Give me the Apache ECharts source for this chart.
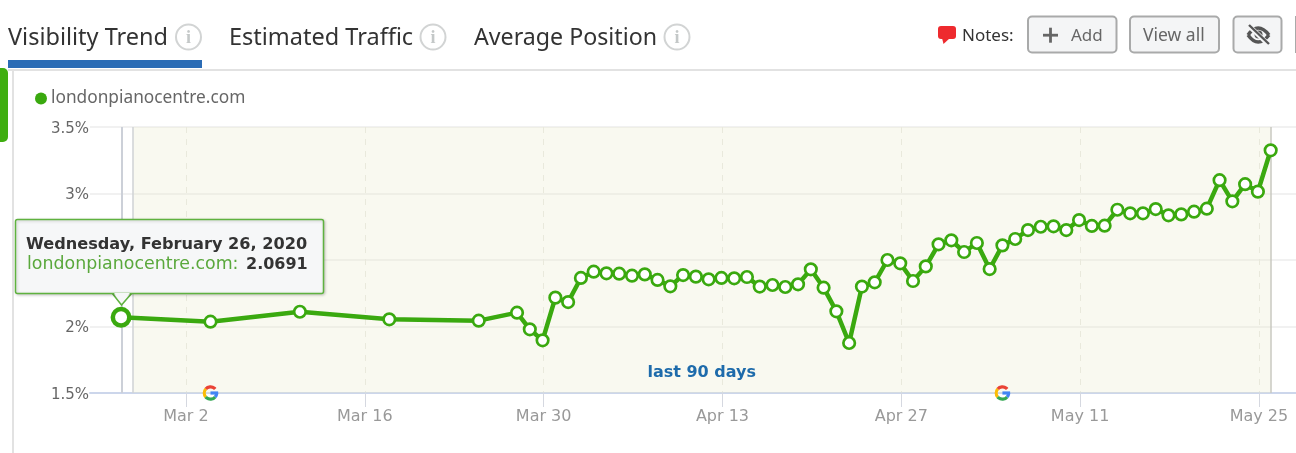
<!DOCTYPE html>
<html><head><meta charset="utf-8">
<style>html,body{margin:0;padding:0;background:#fff}#c{width:1296px;height:453px}</style>
<script src="https://cdn.jsdelivr.net/npm/echarts@6/dist/echarts.min.js"></script>
</head><body><div id="c"></div>
<script>
const seriesName = 'londonpianocentre.com';
const sparseDates = ['2020-02-26','2020-03-04','2020-03-11','2020-03-18','2020-03-25','2020-03-28','2020-03-29'];
const sparseValues = [2.0691,2.036,2.111,2.054,2.044,2.104,1.979];
const dailyStart = '2020-03-30';
const dailyValues = [1.896,2.217,2.184,2.365,2.412,2.400,2.397,2.382,2.392,2.350,2.302,2.387,2.375,2.355,2.365,2.362,2.372,2.300,2.312,2.297,2.317,2.430,2.292,2.114,1.876,2.300,2.332,2.500,2.475,2.342,2.452,2.618,2.648,2.560,2.628,2.432,2.610,2.658,2.725,2.750,2.753,2.725,2.800,2.756,2.758,2.878,2.851,2.851,2.883,2.836,2.843,2.863,2.886,3.100,2.941,3.070,3.014,3.325];
const tickDates = ['2020-03-02','2020-03-16','2020-03-30','2020-04-13','2020-04-27','2020-05-11','2020-05-25'];
const tickLabels = ['Mar 2','Mar 16','Mar 30','Apr 13','Apr 27','May 11','May 25'];
const yTicks = {min:1.5,max:3.5,interval:0.5};
const bandStart = '2020-02-27';
const bandEnd = '2020-05-26';
const bandLabel = 'last 90 days';
const hoverDate = '2020-02-26';
const googleUpdateDates = ['2020-03-04','2020-05-05'];

const DAY = 864e5, HOUR = 36e5;
const GREEN = '#3aa90f';
const ms = s => Date.parse(s + 'T00:00:00Z');
const tickShift = 2 * HOUR;
const points = sparseDates.map((d,i)=>[ms(d),sparseValues[i]])
  .concat(dailyValues.map((v,i)=>[ms(dailyStart)+i*DAY,v]));
const tickValues = tickDates.map(d=>ms(d)+tickShift);
const labelOf = {}; tickValues.forEach((t,i)=>labelOf[t]=tickLabels[i]);

const chart = echarts.init(document.getElementById('c'),null,{renderer:'canvas'});
const SANS = '"Noto Sans"', DJ = '"DejaVu Sans"';

function text(t,x,y,font,fill,align){return {type:'text',z:50,style:{text:t,x,y,font,fill,textAlign:align||'left',textVerticalAlign:'middle'}};}
function rect(x,y,w,h,fill,r,stroke,lw,extra){return Object.assign({type:'rect',z:50,shape:{x,y,width:w,height:h,r:r||0},style:{fill,stroke:stroke||null,lineWidth:lw||0}},extra||{});}
function line(x1,y1,x2,y2,c,lw){return {type:'line',z:50,shape:{x1,y1,x2,y2},style:{stroke:c,lineWidth:lw}};}
function curve(x1,y1,cpx1,cpy1,x2,y2,c,lw){return {type:'bezierCurve',z:50,shape:{x1,y1,x2,y2,cpx1,cpy1},style:{stroke:c,lineWidth:lw,fill:null}};}
function info(cx,cy){return [
  {type:'circle',z:50,shape:{cx,cy,r:12.5},style:{fill:'#fff',stroke:'#d2d4d4',lineWidth:2}},
  text('i',cx,cy+1,'bold 18px "Liberation Serif"','#c4c8c8','center')];}
function gLogo(cx,cy){const r=6.2,lw=3.2,a=Math.PI/180;
  const arc=(s,e,c)=>({type:'arc',z:50,shape:{cx,cy,r,startAngle:s*a,endAngle:e*a},style:{stroke:c,lineWidth:lw,fill:null}});
  return [arc(-140,-40,'#ea4335'),arc(140,220,'#fbbc05'),arc(40,140,'#34a853'),arc(0,40,'#4285f4'),
    rect(cx,cy-1.6,r+1.5,3.2,'#4285f4')];}

const graphics = [
  text('Visibility Trend',8,38,'23.5px '+SANS,'#333'),
  text('Estimated Traffic',229,38,'23.5px '+SANS,'#333'),
  text('Average Position',474,38,'23.2px '+SANS,'#333'),
  ...info(188.5,37),...info(433,37),...info(677,37),
  rect(8,69,1288,2,'#e2e2e2'),
  rect(8,60,194,8,'#2b6cb5'),
  rect(12,69,2,384,'#e2e2e2'),
  rect(0,68,8,74,'#3fae10',[0,5,5,0]),
  rect(938,26,18,13,'#ee2a2e',3),
  {type:'polygon',z:50,shape:{points:[[942,38],[950,38],[943.5,44]]},style:{fill:'#ee2a2e'}},
  text('Notes:',962,36,'17px '+SANS,'#333'),
  rect(1028,16.5,88.5,36,'#f4f5f6',4,'#a9aaaa',2),
  rect(1043,33.8,15,2.8,'#666'),rect(1049.1,27.7,2.8,15,'#666'),
  text('Add',1071,36,'17px '+SANS,'#666'),
  rect(1130,16.5,89,36,'#f4f5f6',4,'#a9aaaa',2),
  text('View all',1143,36,'17.5px '+SANS,'#666'),
  rect(1233.5,16.5,48,36,'#f4f5f6',4,'#a9aaaa',2),
  curve(1248,35,1258,21,1269,35,'#555',3.5),
  curve(1248,35,1258,49,1269,35,'#555',3.5),
  {type:'circle',z:50,shape:{cx:1258.5,cy:34.5,r:4},style:{fill:'#555'}},
  line(1248,25,1268,44,'#f4f5f6',5),line(1249,25,1269,44,'#555',2.4),
  rect(1295,16,1,37,'#a9aaaa'),
  {type:'polygon',z:60,shape:{points:[[112,293],[132,293],[121.5,305]]},style:{fill:'#f6f7f8',stroke:'#5fb23f',lineWidth:1.5}},
  rect(15.5,219.5,308,74,'#f6f7f8',2,'#5fb23f',1.5,{z:60,style:{fill:'#f6f7f8',stroke:'#5fb23f',lineWidth:1.5,shadowBlur:3,shadowColor:'rgba(0,0,0,0.2)',shadowOffsetX:1,shadowOffsetY:1}}),
  {type:'polygon',z:61,shape:{points:[[114,293],[130,293],[121.5,303]]},style:{fill:'#f6f7f8'}},
  Object.assign(text('Wednesday, February 26, 2020',26,244.5,'bold 16.15px '+DJ,'#333'),{z:62}),
  Object.assign(text(seriesName+':',27,264.5,'17.4px '+DJ,'#5aa83c'),{z:62}),
  Object.assign(text(String(sparseValues[0]),246,264.5,'bold 16px '+DJ,'#333'),{z:62})
];

chart.setOption({
  animation:false,
  legend:{show:true,left:35,top:90,icon:'circle',itemWidth:12,itemHeight:12,itemGap:6,padding:0,
    itemStyle:{color:GREEN,borderWidth:0},
    textStyle:{fontFamily:SANS,fontSize:17.3,color:'#666',padding:[0,0,0,-1]},data:[seriesName]},
  grid:{left:90,right:0,top:127,bottom:60,containLabel:false},
  xAxis:{type:'value',
    min:ms('2020-03-02')+tickShift-7.515*DAY,
    max:ms('2020-03-02')+tickShift+86.9*DAY,
    axisLine:{onZero:false,lineStyle:{color:'#ccd6eb',width:2}},
    axisTick:{show:true,length:14,lineStyle:{color:'#d5d8e0',width:1},customValues:tickValues},
    axisLabel:{customValues:tickValues,margin:16,color:'#999',fontFamily:DJ,fontSize:16,hideOverlap:false,
      formatter:v=>labelOf[v]||''},
    splitLine:{show:true,lineStyle:{color:'#e9e9e4',width:1,type:[6,6]}}
  },
  yAxis:{type:'value',min:yTicks.min,max:yTicks.max,interval:yTicks.interval,
    axisLine:{show:false},axisTick:{show:false},
    axisLabel:{color:'#666',fontFamily:DJ,fontSize:15,margin:1,verticalAlign:'top',lineHeight:4,formatter:v=>v+'%'},
    splitLine:{show:true,lineStyle:{color:'#ededed',width:1.5}}
  },
  series:[{
    name:seriesName,type:'line',color:GREEN,z:5,
    data:points.map((p,i)=> p[0]===ms(hoverDate)
      ? {value:p,symbolSize:16.5,itemStyle:{borderWidth:4.5,borderColor:GREEN,color:'#fff'}}
      : {value:p}),
    symbol:'circle',symbolSize:11.5,showSymbol:true,showAllSymbols:true,
    lineStyle:{color:GREEN,width:4.5},
    itemStyle:{color:'#fff',borderColor:GREEN,borderWidth:2.7},
    silent:true,
    markArea:{silent:true,itemStyle:{color:'rgba(232,232,200,0.27)'},
      label:{show:true,position:'insideBottom',distance:12,formatter:bandLabel,
        fontFamily:DJ,fontWeight:'bold',fontSize:16,color:'#1e6bab'},
      data:[[{xAxis:ms(bandStart)-tickShift},{xAxis:ms(bandEnd)}]]},
    markLine:{silent:true,symbol:'none',label:{show:false},animation:false,
      data:[
        {xAxis:ms(hoverDate)+tickShift,lineStyle:{color:'#ccd0d8',width:2,type:'solid'}},
        {xAxis:ms(bandStart)-tickShift,lineStyle:{color:'#d0d3d6',width:1.5,type:'solid'}},
        {xAxis:ms(bandEnd),lineStyle:{color:'#c8c8c0',width:1.5,type:'solid'}}
      ]}
  }],
  graphic:{elements:graphics}
});
const gEls=[];
googleUpdateDates.forEach(d=>{
  const px=chart.convertToPixel({xAxisIndex:0,yAxisIndex:0},[ms(d),yTicks.min]);
  gEls.push(...gLogo(px[0],px[1]));
});
chart.setOption({graphic:{elements:graphics.concat(gEls)}});
</script></body></html>
